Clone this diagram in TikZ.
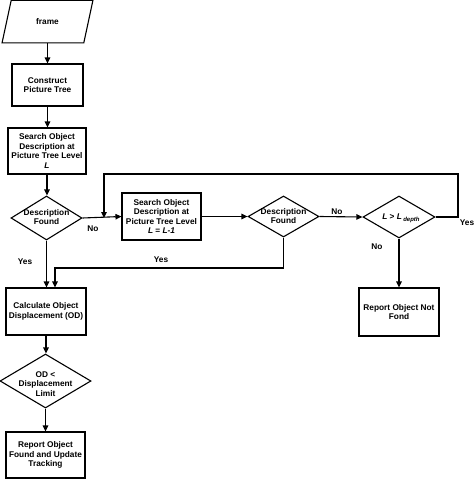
\documentclass[tikz,border=0pt]{standalone}
\usepackage{fontspec}
\setmainfont{Liberation Sans}
\usetikzlibrary{shapes.geometric,arrows.meta}
\begin{document}
\begin{tikzpicture}[x=1pt,y=-1pt,
  font=\fontsize{8.3}{9.6}\selectfont\bfseries,
  line width=1.1pt,
  box/.style={draw,rectangle,align=center,inner sep=0pt},
  dia/.style={draw,diamond,inner sep=0pt},
  txt/.style={align=center,inner sep=0pt},
  io/.style={draw,trapezium,trapezium left angle=65,trapezium right angle=115,trapezium stretches=true,inner sep=0pt},
  arr/.style={-{Triangle[length=6pt,width=5.5pt]}},
  lab/.style={inner sep=0pt}]
\useasboundingbox (0,0) rectangle (474,479);
% nodes
\node[io,minimum width=91pt,minimum height=42.5pt] (frame) at (47.5,21.6) {frame};
\node[box,minimum width=71pt,minimum height=42pt] (construct) at (47.5,85) {Construct\\Picture Tree};
\node[box,minimum width=78pt,minimum height=46pt] (search1) at (47,151) {Search Object\\Description at\\Picture Tree Level\\\textit{L}};
\node[dia,minimum width=71pt,minimum height=44pt] (d1) at (46.5,218) {};
\node[txt] (d1t) at (46.5,217) {Description\\Found};
\node[box,minimum width=79pt,minimum height=47pt] (search2) at (161.5,216.5) {Search Object\\Description at\\Picture Tree Level\\\textit{L} = \textit{L-1}};
\node[dia,minimum width=71pt,minimum height=41pt] (d2) at (283.5,216.5) {};
\node[txt] (d2t) at (283.5,216) {Description\\Found};
\node[dia,minimum width=72pt,minimum height=42pt] (d3) at (399,217) {};
\node[txt] (d3t) at (401,218) {\textit{L} > \textit{L}\,\raisebox{-2pt}{\fontsize{6}{7}\selectfont\textit{depth}}};
\node[box,minimum width=80pt,minimum height=48pt] (notfound) at (399,312) {Report Object Not\\Fond};
\node[box,minimum width=80pt,minimum height=47pt] (calc) at (46,311.5) {Calculate Object\\Displacement (OD)};
\node[dia,minimum width=91pt,minimum height=54pt] (d4) at (45.5,381) {};
\node[txt] (d4t) at (45.5,384) {OD <\\Displacement\\Limit};
\node[box,minimum width=79pt,minimum height=46pt] (final) at (45.5,455) {Report Object\\Found and Update\\Tracking};
% helper coordinates
\coordinate (lr) at (458,174);
\coordinate (ll) at (104,174);
\coordinate (yc) at (55,268);
% connectors
\draw[arr] (frame.south) -- (frame.south |- construct.north);
\draw[arr] (construct) -- (construct |- search1.north);
\draw[arr] (search1.south) -- (search1.south |- d1.north);
\draw[arr] (d1.south) -- (d1.south |- calc.north);
\draw[arr] (d1.east) -- (search2.west);
\draw[arr] (search2.east) -- (d2.west);
\draw[arr] (d2.east) -- (d3.west);
\draw[arr] (d3.south) -- (notfound.north);
\draw[arr] (d3.east) -| (lr) -- (ll) -- (ll |- d1.east);
\draw[arr] (d2.south) |- (yc) -- (yc |- calc.north);
\draw[arr] (calc.south) -- (calc.south |- d4.north);
\draw[arr] (d4.south) -- (d4.south |- final.north);
% labels
\node[lab] (no1) at (93,229) {No};
\node[lab] (no2) at (337,212) {No};
\node[lab] (no3) at (377,247) {No};
\node[lab] (yes1) at (467,223) {Yes};
\node[lab] (yes2) at (161,260) {Yes};
\node[lab] (yes3) at (25,262) {Yes};
\end{tikzpicture}
\end{document}
